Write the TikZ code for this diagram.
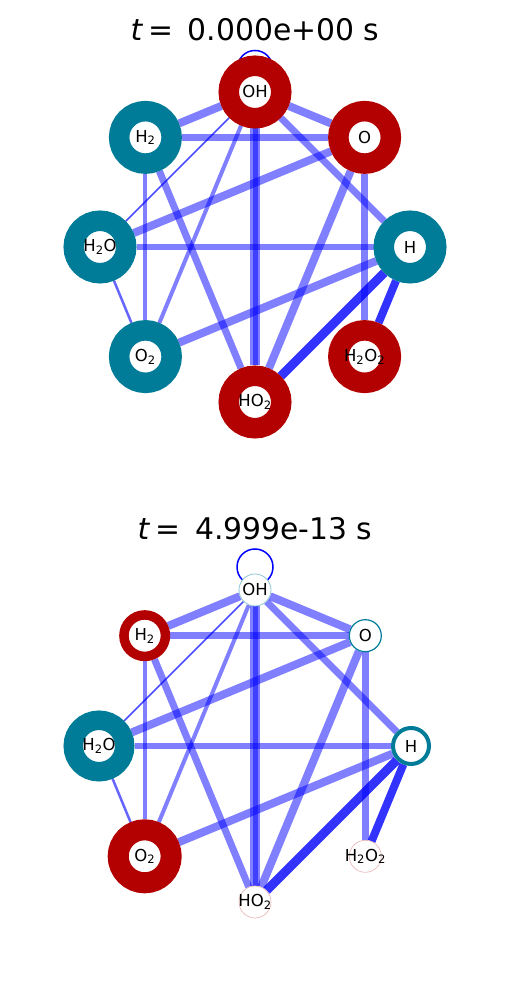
\documentclass[tikz,border=0pt]{standalone}
\usepackage{fontspec}
\setmainfont{DejaVu Sans}
\definecolor{ringteal}{RGB}{0,124,153}
\definecolor{ringred}{RGB}{179,0,0}
\pgfdeclarelayer{background}
\pgfsetlayers{background,main}
\newcommand*{\spname}[1]{\makebox[0pt]{#1}}

\begin{document}
\begin{tikzpicture}
[
	x=1pt, y=1pt,
	species/.style={circle,fill=white,inner sep=0pt,font=\fontsize{16.5}{16.5}\selectfont},
	ring/.style 2 args={species,draw=#1,line width={#2-16},minimum size={#2+16}},
	thinring/.style 2 args={species,draw=#1,line width=#2,minimum size=32},
	reaction/.style={blue,line cap=butt},
	selfloop/.style={blue,line width=1.5},
	timelabel/.style={font=\fontsize{29.8}{29.8}\selectfont}
]

	\useasboundingbox (0,0) rectangle (504,1008);

	% titles
	\node[timelabel] (title-a) at (255,978) {\textit{t}\,=\enspace 0.000e+00 s};
	\node[timelabel] (title-b) at (255,479) {\textit{t}\,=\enspace 4.999e-13 s};

	% first time step
	\begin{scope}[shift={(255,761)}]
		\node[ring={ringred}{36.5}]  (oh-a)   at (90:155)   {\spname{OH}};
		\node[ring={ringred}{36.5}]  (o-a)    at (45:155)   {\spname{O}};
		\node[ring={ringteal}{36.5}] (h-a)    at (0:155)    {\spname{H}};
		\node[ring={ringred}{36.5}]  (h2o2-a) at (-45:155)  {\spname{H\textsubscript{2}O\textsubscript{2}}};
		\node[ring={ringred}{36.5}]  (ho2-a)  at (-90:155)  {\spname{HO\textsubscript{2}}};
		\node[ring={ringteal}{36.5}] (o2-a)   at (-135:155) {\spname{O\textsubscript{2}}};
		\node[ring={ringteal}{36.5}] (h2o-a)  at (180:155)  {\spname{H\textsubscript{2}O}};
		\node[ring={ringteal}{36.5}] (h2-a)   at (135:155)  {\spname{H\textsubscript{2}}};
		\begin{pgfonlayer}{background}
			\draw[selfloop] (90:179) circle[radius=17.5];
		\end{pgfonlayer}
	\end{scope}

	% second time step
	\begin{scope}[shift={(255,262)}]
		\node[thinring={ringteal!45}{0.8}] (oh-b)   at (90:156)   {\spname{OH}};
		\node[thinring={ringteal}{1.2}]    (o-b)    at (45:156)   {\spname{O}};
		\node[ring={ringteal}{20}]         (h-b)    at (0:156)    {\spname{H}};
		\node[thinring={ringred!30}{0.6}]  (h2o2-b) at (-45:156)  {\spname{H\textsubscript{2}O\textsubscript{2}}};
		\node[thinring={ringred!30}{0.6}]  (ho2-b)  at (-90:156)  {\spname{HO\textsubscript{2}}};
		\node[ring={ringred}{37}]          (o2-b)   at (-135:156) {\spname{O\textsubscript{2}}};
		\node[ring={ringteal}{35.5}]       (h2o-b)  at (180:156)  {\spname{H\textsubscript{2}O}};
		\node[ring={ringred}{25.5}]        (h2-b)   at (135:156)  {\spname{H\textsubscript{2}}};
		\begin{pgfonlayer}{background}
			\draw[selfloop] (90:179) circle[radius=18];
		\end{pgfonlayer}
	\end{scope}

	% reactions between species
	\begin{pgfonlayer}{background}
		\foreach \p in {a,b} {
			\foreach \u/\v/\w/\o in {oh/h2/8/.5, oh/o/8/.5, oh/ho2/10/.5, oh/ho2/5/.5,
				oh/h/7/.5, oh/h2o/1.5/.7, oh/o2/4/.5, h2/o/7/.5, h2/o2/4/.5,
				h2/ho2/7/.5, h2o/o/8/.5, h2o/h/6/.5, h2o/o2/2.5/.6, o/h2o2/7/.5,
				o/ho2/8/.5, h/o2/8/.5, h/ho2/9/.8, h/h2o2/8/.8}
				\draw[reaction,line width=\w,opacity=\o] (\u-\p) -- (\v-\p);
		}
	\end{pgfonlayer}

\end{tikzpicture}
\end{document}
